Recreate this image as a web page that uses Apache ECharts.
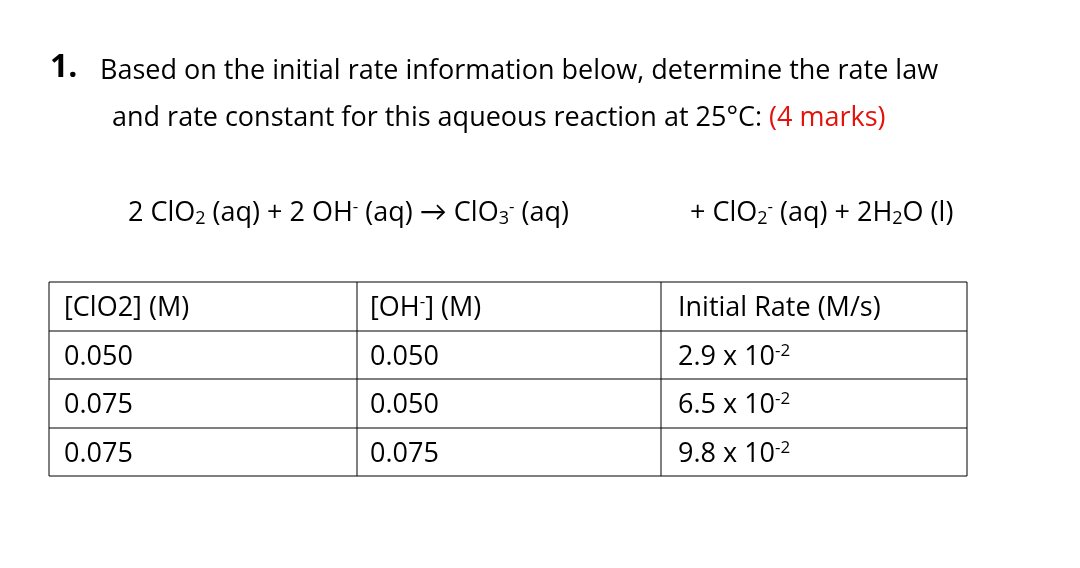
<!DOCTYPE html>
<html><head><meta charset="utf-8">
<script src="https://cdn.jsdelivr.net/npm/echarts@6/dist/echarts.min.js"></script>
<style>html,body{margin:0;background:#fff}#c{width:1080px;height:568px}</style>
</head><body><div id="c"></div>
<script>
const headers = ['[ClO2] (M)', '[OH{sup|-}] (M)', 'Initial Rate (M/s)'];
const clo2 = ['0.050', '0.075', '0.075'];
const oh = ['0.050', '0.050', '0.075'];
const rateMant = ['2.9', '6.5', '9.8'];
const rateExp = ['-2', '-2', '-2'];

const F = '"Open Sans", Lato, sans-serif';
const FS = 27;
const rich = {
  sup: {fontSize: 17, verticalAlign: 'top', padding: [0,0,12,0], fontFamily: F, fill:'#000'},
  sub: {fontSize: 18, verticalAlign: 'bottom', padding: [8,0,0,0], fontFamily: F, fill:'#000'},
  red: {fontSize: FS, fill: '#e3120b', fontFamily: F}
};
function T(x, y, text, extra) {
  return Object.assign({type:'text', x, y, style:Object.assign({text, fontSize:FS, fontFamily:F, fill:'#000', textVerticalAlign:'middle', rich}, extra||{})});
}
const L = 49, R = 967, rowsY = [282, 331, 379, 428, 476], colX = [49, 357, 661, 967], textX = [64, 370, 678];
const g = [];
g.push(T(50, 68, '1.', {fontWeight:'bold', fontSize:32}));
g.push(T(100, 71, 'Based on the initial rate information below, determine the rate law'));
g.push(T(112, 118, 'and rate constant for this aqueous reaction at 25°C: {red|(4 marks)}'));
g.push(T(128, 213, '2 ClO{sub|2} (aq) + 2 OH{sup|-} (aq) → ClO{sub|3}{sup|-} (aq)'));
g.push(T(690, 213, '+ ClO{sub|2}{sup|-} (aq) + 2H{sub|2}O (l)'));
g.push({type:'rect', shape:{x:L, y:rowsY[0], width:R-L, height:rowsY[4]-rowsY[0]}, style:{fill:'none', stroke:'#000', lineWidth:1}});
for (let i=1;i<4;i++) g.push({type:'line', shape:{x1:L, y1:rowsY[i], x2:R, y2:rowsY[i]}, style:{stroke:'#000', lineWidth:1}});
for (let i=1;i<3;i++) g.push({type:'line', shape:{x1:colX[i], y1:rowsY[0], x2:colX[i], y2:rowsY[4]}, style:{stroke:'#000', lineWidth:1}});
const cy = i => (rowsY[i]+rowsY[i+1])/2 + 2;
headers.forEach((h,j)=>g.push(T(textX[j], cy(0), h)));
for (let i=0;i<3;i++){
  g.push(T(textX[0], cy(i+1), clo2[i]));
  g.push(T(textX[1], cy(i+1), oh[i]));
  g.push(T(textX[2], cy(i+1), rateMant[i] + ' x 10{sup|' + rateExp[i] + '}'));
}
const chart = echarts.init(document.getElementById('c'));
chart.setOption({backgroundColor:'#fff', graphic: g});
</script></body></html>
